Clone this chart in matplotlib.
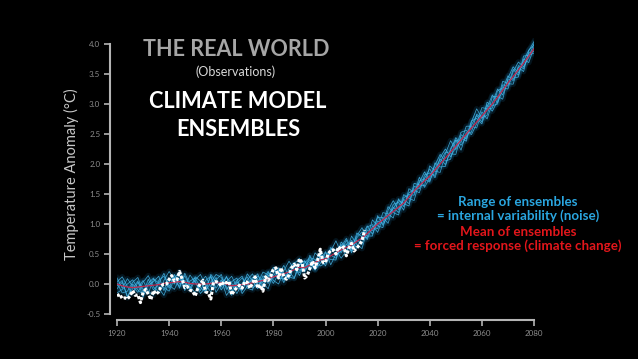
import matplotlib
matplotlib.use("Agg")
import numpy as np
import matplotlib.pyplot as plt

# --- data -------------------------------------------------------------
obs_years = list(range(1920, 2016))
obs_temp = [-0.20, -0.17, -0.24, -0.23, -0.25, -0.20, -0.11, -0.19, -0.18, -0.31,
            -0.14, -0.09, -0.17, -0.26, -0.11, -0.17, -0.13, -0.03, 0.00, 0.00,
            0.08, 0.14, 0.05, 0.07, 0.21, 0.08, -0.06, -0.04, -0.10, -0.12,
            -0.20, -0.07, 0.01, 0.06, -0.13, -0.15, -0.25, 0.03, 0.04, 0.02,
            -0.03, 0.04, 0.02, 0.04, -0.18, -0.11, -0.06, -0.02, -0.07, 0.04,
            0.03, -0.07, 0.01, 0.12, -0.07, -0.02, -0.12, 0.12, 0.06, 0.13,
            0.25, 0.27, 0.10, 0.27, 0.12, 0.08, 0.15, 0.27, 0.33, 0.24,
            0.42, 0.36, 0.10, 0.14, 0.26, 0.38, 0.27, 0.40, 0.58, 0.36,
            0.36, 0.50, 0.56, 0.57, 0.50, 0.62, 0.58, 0.62, 0.47, 0.60,
            0.68, 0.55, 0.60, 0.65, 0.72, 0.90]

ens_years = list(range(1920, 2081, 2))
ens_mean = [0.00, -0.03, -0.05, -0.06, -0.05, -0.04, -0.03, -0.02, -0.01, 0.01,
            0.02, 0.03, 0.04, 0.03, 0.01, 0.00, 0.00, 0.00, 0.01, 0.02,
            0.02, 0.00, -0.03, -0.02, -0.01, 0.00, 0.02, 0.04, 0.06, 0.09,
            0.12, 0.14, 0.17, 0.20, 0.24, 0.28, 0.27, 0.32, 0.36, 0.40,
            0.42, 0.47, 0.52, 0.57, 0.61, 0.65, 0.71, 0.77, 0.84, 0.92,
            1.00, 1.07, 1.14, 1.21, 1.28, 1.35, 1.45, 1.55, 1.64, 1.72,
            1.80, 1.90, 2.00, 2.10, 2.20, 2.30, 2.40, 2.50, 2.60, 2.70,
            2.80, 2.90, 3.00, 3.11, 3.23, 3.35, 3.46, 3.57, 3.68, 3.80,
            3.92]

# spread of individual ensemble members around the ensemble mean
member_offsets = {
    "m1": [0.10, -0.04, 0.14, 0.02, -0.09, 0.07, 0.17, -0.03, -0.12, 0.05,
           0.19, 0.03, -0.08, 0.11, -0.05, -0.15, 0.03, 0.13, -0.06, 0.09,
           -0.12, 0.04, 0.16, -0.03, -0.10, 0.07, 0.15, -0.08, 0.02, 0.12,
           -0.06, -0.14, 0.05, 0.18, 0.00, -0.09, 0.11, -0.04, 0.16, 0.03,
           -0.12, 0.08, 0.20, -0.05, 0.06, -0.10, 0.14, 0.02, -0.07, 0.15,
           -0.03, -0.13, 0.09, 0.18, -0.04, 0.06, -0.11, 0.13, 0.01, -0.08,
           0.17, -0.02, -0.14, 0.07, 0.19, -0.06, 0.04, -0.12, 0.10, 0.22,
           -0.03, -0.09, 0.12, 0.02, -0.15, 0.08, 0.16, -0.05, 0.04, 0.10,
           0.06],
    "m2": [-0.08, 0.06, -0.15, -0.02, 0.10, -0.18, 0.04, 0.12, -0.06, -0.20,
           0.02, 0.09, -0.11, 0.15, -0.02, 0.06, -0.16, -0.05, 0.11, -0.09,
           0.05, -0.19, -0.03, 0.08, 0.14, -0.07, -0.12, 0.10, -0.04, -0.17,
           0.07, 0.13, -0.10, 0.01, -0.14, 0.09, -0.06, 0.16, -0.11, 0.00,
           0.12, -0.15, -0.02, 0.09, -0.08, 0.15, -0.05, -0.18, 0.06, -0.03,
           0.11, 0.04, -0.13, 0.07, -0.09, 0.14, -0.02, -0.16, 0.08, 0.03,
           -0.10, 0.12, -0.05, -0.14, 0.06, 0.10, -0.17, 0.02, -0.07, 0.13,
           -0.04, 0.09, -0.12, -0.06, 0.15, -0.01, -0.13, 0.07, -0.09, 0.05,
           -0.04],
    "m3": [0.04, 0.15, 0.01, -0.11, 0.08, -0.04, -0.13, 0.10, 0.03, -0.07,
           -0.14, 0.06, 0.17, -0.01, -0.09, 0.12, 0.05, -0.12, 0.02, 0.14,
           0.09, -0.05, -0.16, 0.03, 0.11, -0.02, 0.06, 0.13, -0.10, 0.04,
           0.16, -0.03, -0.09, -0.04, 0.10, 0.15, -0.07, 0.05, -0.13, 0.08,
           0.02, -0.06, -0.12, 0.13, 0.00, -0.05, 0.09, 0.17, -0.10, 0.04,
           -0.08, 0.12, 0.03, -0.11, 0.14, -0.06, 0.07, 0.02, -0.12, 0.10,
           0.05, -0.09, 0.11, 0.15, -0.08, -0.02, 0.13, 0.06, -0.11, -0.03,
           0.14, 0.02, -0.07, 0.11, 0.04, -0.10, 0.08, 0.13, -0.06, -0.02,
           0.09],
    "m4": [-0.15, -0.06, 0.05, 0.13, -0.02, 0.10, -0.09, -0.17, 0.07, 0.12,
           -0.04, -0.12, 0.05, -0.08, 0.14, 0.03, -0.11, 0.06, 0.12, -0.16,
           -0.02, 0.11, 0.04, -0.14, 0.02, 0.12, -0.09, -0.03, 0.14, 0.06,
           -0.11, 0.03, 0.14, -0.08, -0.15, 0.04, 0.12, -0.10, 0.02, 0.13,
           -0.05, 0.11, 0.05, -0.14, -0.06, 0.08, -0.12, 0.03, 0.13, -0.09,
           0.05, -0.06, 0.15, -0.02, -0.13, 0.09, 0.04, -0.07, 0.14, -0.11,
           -0.03, 0.08, 0.16, -0.05, -0.12, 0.10, -0.04, 0.13, 0.03, -0.10,
           0.07, -0.15, 0.02, 0.14, -0.08, 0.05, -0.03, -0.12, 0.12, 0.01,
           -0.07],
    "m5": [0.02, -0.12, -0.07, 0.09, 0.16, -0.10, 0.01, 0.06, 0.14, -0.12,
           0.08, -0.03, 0.13, -0.14, 0.04, 0.10, -0.06, -0.13, 0.15, 0.01,
           -0.07, 0.13, -0.10, 0.06, -0.05, 0.17, 0.03, -0.12, 0.08, -0.08,
           0.02, 0.10, -0.15, 0.06, 0.12, -0.05, 0.01, 0.09, -0.12, -0.06,
           0.10, 0.01, -0.09, 0.05, 0.15, -0.07, 0.02, -0.11, 0.11, 0.07,
           -0.14, 0.03, -0.06, 0.12, 0.08, -0.12, 0.14, -0.03, 0.05, 0.15,
           -0.08, 0.02, 0.08, -0.11, 0.03, 0.14, -0.09, -0.05, 0.12, 0.06,
           -0.13, 0.04, 0.15, -0.09, 0.01, 0.12, -0.07, 0.04, -0.14, 0.09,
           0.12],
    "m6": [-0.03, 0.09, -0.18, 0.06, -0.05, -0.13, 0.11, -0.08, 0.02, 0.17,
           -0.09, 0.13, -0.04, 0.03, -0.12, 0.07, 0.16, -0.02, -0.14, 0.05,
           0.14, -0.09, 0.07, 0.12, -0.15, -0.04, 0.09, 0.05, -0.13, 0.10,
           -0.02, 0.07, 0.01, -0.12, 0.06, -0.14, 0.08, 0.12, 0.05, -0.10,
           -0.07, 0.14, -0.04, -0.02, 0.12, -0.13, 0.06, 0.10, -0.04, -0.12,
           0.14, -0.09, 0.01, 0.05, 0.11, -0.01, -0.15, 0.08, -0.05, 0.04,
           0.12, -0.13, 0.03, 0.10, -0.03, -0.14, 0.09, -0.08, 0.05, 0.11,
           -0.10, 0.13, -0.03, -0.11, 0.09, -0.05, 0.12, -0.09, 0.07, -0.11,
           0.03],
}

x_ticks = [1920, 1940, 1960, 1980, 2000, 2020, 2040, 2060, 2080]
y_ticks = [-0.5, 0.0, 0.5, 1.0, 1.5, 2.0, 2.5, 3.0, 3.5, 4.0]

# --- figure -----------------------------------------------------------
grey = "#b4b4b4"
blue = "#2aa6e0"
red = "#e3161b"
font = ["Lato", "DejaVu Sans"]

fig = plt.figure(figsize=(6.38, 3.59), dpi=100, facecolor="black")
ax = fig.add_axes([0.1834, 0.1253, 0.6536, 0.7772], facecolor="black")

mean_arr = np.array(ens_mean)
for name, off in member_offsets.items():
    member = mean_arr + np.array(off)
    ax.plot(ens_years, member, color="#1a7cb0", lw=4, alpha=0.16, zorder=1)
    ax.plot(ens_years, member, color="#46b8ea", lw=0.55, alpha=0.85, zorder=2)

ax.plot(ens_years, ens_mean, color="#c02a50", lw=0.9, zorder=3)

ax.plot(obs_years, obs_temp, color="white", lw=2.2, ls=(0, (1, 0.55)),
        dash_capstyle="butt", zorder=4)

ax.set_xlim(1920, 2080)
ax.set_ylim(-0.5, 4.15)

for side in ["top", "right"]:
    ax.spines[side].set_visible(False)
ax.spines["left"].set_position(("outward", 5))
ax.spines["bottom"].set_position(("outward", 4.5))
ax.spines["left"].set_bounds(-0.5, 4.0)
ax.spines["bottom"].set_bounds(1920, 2080)
for side in ["left", "bottom"]:
    ax.spines[side].set_color(grey)
    ax.spines[side].set_linewidth(1.5)

ax.set_xticks(x_ticks)
ax.set_xticklabels([str(t) for t in x_ticks])
ax.set_yticks(y_ticks)
ax.set_yticklabels([f"{t:.1f}" for t in y_ticks])
ax.tick_params(colors=grey, labelcolor="#8c8c8c", labelsize=5.8, length=4,
               width=1.2, pad=3)
for lab in ax.get_xticklabels() + ax.get_yticklabels():
    lab.set_family(font)

ax.set_ylabel("Temperature Anomaly (°C)", color="#c8c8c8", fontsize=10.5,
              family=font, labelpad=5)

# --- annotations ------------------------------------------------------
title_kw = dict(fontweight="bold", family=font, ha="center", va="center")
fig.text(236 / 638, 1 - 50 / 359, "THE REAL WORLD", color="#a6a6a6",
         fontsize=15.5, **title_kw)
fig.text(236 / 638, 1 - 72 / 359, "(Observations)", color="#d8d8d8",
         fontsize=9.0, family=font, ha="center", va="center")
fig.text(238 / 638, 1 - 102 / 359, "CLIMATE MODEL", color="white",
         fontsize=15.7, **title_kw)
fig.text(238 / 638, 1 - 129 / 359, "ENSEMBLES", color="white",
         fontsize=15.7, **title_kw)

note_kw = dict(fontsize=9.6, fontweight="bold", family=font, ha="center", va="center")
fig.text(518 / 638, 1 - 202 / 359, "Range of ensembles", color=blue, **note_kw)
fig.text(518 / 638, 1 - 216 / 359, "= internal variability (noise)", color=blue, **note_kw)
fig.text(518 / 638, 1 - 232 / 359, "Mean of ensembles", color=red, **note_kw)
fig.text(518 / 638, 1 - 246 / 359, "= forced response (climate change)", color=red, **note_kw)

fig.savefig("out.png", dpi=100, facecolor="black")
